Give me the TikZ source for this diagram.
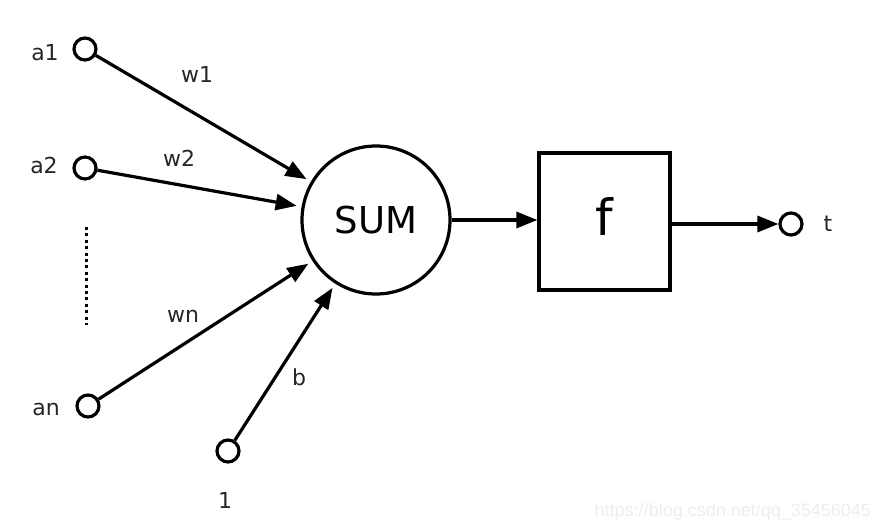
\documentclass[tikz,border=0pt]{standalone}
\usepackage{fontspec}
\setmainfont{DejaVu Sans}
\newfontfamily\markfont{Liberation Sans}
\usetikzlibrary{arrows.meta}
\usetikzlibrary{positioning}

\tikzset{
    port/.style={circle, draw, line width=1.6pt, minimum size=11pt, inner sep=0pt},
    sumnode/.style={circle, draw, line width=1.6pt, minimum size=74pt, inner sep=0pt, font=\fontsize{18.5}{20}\selectfont},
    fbox/.style={rectangle, draw, line width=1.6pt, minimum width=65.5pt, minimum height=68.5pt, font=\fontsize{25}{28}\selectfont},
    lbl/.style={font=\fontsize{11}{13}\selectfont, text=black!85},
    wire/.style={line width=1.6pt, -{Triangle[length=10.5pt, width=8pt]}},
}

\begin{document}
\begin{tikzpicture}[x=0.5pt, y=-0.5pt]
        \useasboundingbox (0,0) rectangle (888,530);

        \node[port] (a1) at (85,49) {};
        \node[port] (a2) at (85,168) {};
        \node[port] (an) at (88,406) {};
        \node[port] (one) at (228,451) {};
        \node[sumnode] (sum) at (376,220) {SUM};
        \node[fbox] (f) at (604.5,221.5) {\raisebox{5pt}{f}};
        \node[port] (t) at (791,224) {};

        \node[lbl] (a1lbl) at (45,53) {a1};
        \node[lbl] (a2lbl) at (44,165) {a2};
        \node[lbl] (anlbl) at (46,409) {an};
        \node[lbl] (onelbl) at (225,500) {1};
        \node[lbl] (tlbl) at (828,224) {t};
        \node[lbl] (w1) at (197,74) {w1};
        \node[lbl] (w2) at (179,158) {w2};
        \node[lbl] (wn) at (183,316) {wn};
        \node[lbl] (b) at (299,377) {b};

        \coordinate (dtop) at (86,227);
        \coordinate (dbot) at (86,325);
        \draw [line width=1.5pt, dash pattern=on 1.5pt off 1.7pt] (dtop) -- (dbot);

        \draw [wire, shorten >=2.5pt] (a1) -- (sum);
        \draw [wire, shorten >=2.5pt] (a2) -- (sum);
        \draw [wire, shorten >=2.5pt] (an) -- (sum);
        \draw [wire, shorten >=2.5pt] (one) -- (sum);
        \draw [wire] (sum.east) -- (sum.east -| f.west);
        \draw [wire] (f.east |- t) -- (t);

        \node[anchor=east, font=\markfont\fontsize{9}{10}\selectfont, text=black!7] (mark) at (878,512) {https://blog.csdn.net/qq\_35456045};
    \end{tikzpicture}
\end{document}
